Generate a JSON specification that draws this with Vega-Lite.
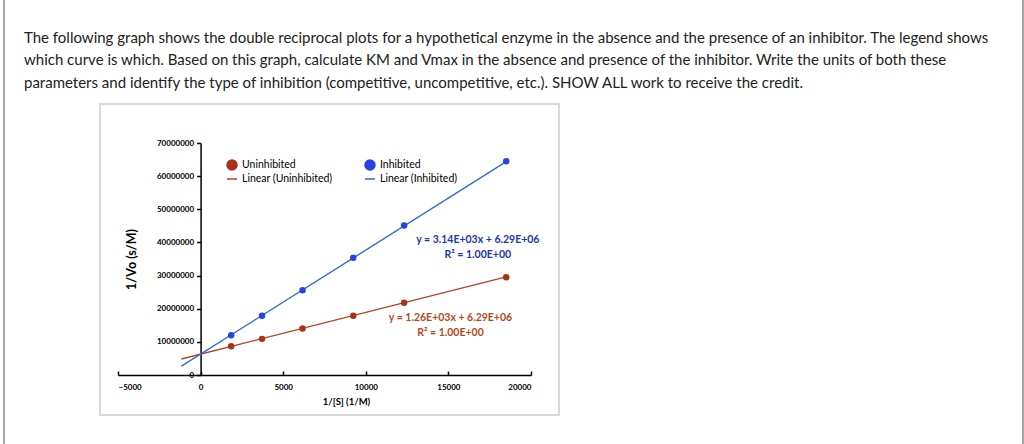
{
  "$schema": "https://vega.github.io/schema/vega-lite/v6.json",
  "autosize": "none",
  "width": 413,
  "height": 232,
  "padding": {"left": 118, "top": 143, "right": 493, "bottom": 69},
  "background": "white",
  "config": {
    "view": {"stroke": null},
    "font": "Lato",
    "axis": {"labelOverlap": false}
  },
  "title": {
    "text": [
      "The following graph shows the double reciprocal plots for a hypothetical enzyme in the absence and the presence of an inhibitor. The legend shows",
      "which curve is which. Based on this graph, calculate KM and Vmax in the absence and presence of the inhibitor. Write the units of both these",
      "parameters and identify the type of inhibition (competitive, uncompetitive, etc.). SHOW ALL work to receive the credit."
    ],
    "anchor": "start",
    "frame": "group",
    "font": "Lato",
    "fontSize": 15,
    "fontWeight": "normal",
    "color": "#222222",
    "lineHeight": 22.5,
    "offset": 0,
    "dx": -94,
    "dy": 92
  },
  "datasets": {
    "points": [
      {"x": 1850, "y": 8650000, "key": "Uninhibited"},
      {"x": 3720, "y": 10900000, "key": "Uninhibited"},
      {"x": 6170, "y": 14000000, "key": "Uninhibited"},
      {"x": 9240, "y": 17900000, "key": "Uninhibited"},
      {"x": 12320, "y": 21800000, "key": "Uninhibited"},
      {"x": 18500, "y": 29500000, "key": "Uninhibited"},
      {"x": 1850, "y": 12000000, "key": "Inhibited"},
      {"x": 3720, "y": 17900000, "key": "Inhibited"},
      {"x": 6170, "y": 25600000, "key": "Inhibited"},
      {"x": 9240, "y": 35400000, "key": "Inhibited"},
      {"x": 12320, "y": 45100000, "key": "Inhibited"},
      {"x": 18500, "y": 64500000, "key": "Inhibited"}
    ],
    "trend": [
      {"x": -1160, "y": 4830000, "key": "Linear (Uninhibited)"},
      {"x": 18500, "y": 29600000, "key": "Linear (Uninhibited)"},
      {"x": -1160, "y": 2650000, "key": "Linear (Inhibited)"},
      {"x": 18500, "y": 64380000, "key": "Linear (Inhibited)"}
    ],
    "one": [{}]
  },
  "layer": [
    {
      "data": {"name": "one"},
      "mark": {"type": "rule", "color": "#a6a6a6", "strokeWidth": 2},
      "encoding": {
        "x": {"datum": -11901, "type": "quantitative"},
        "y": {"datum": 113150000, "type": "quantitative"},
        "y2": {"datum": -20820000}
      }
    },
    {
      "data": {"name": "one"},
      "mark": {"type": "rule", "color": "#a6a6a6", "strokeWidth": 2},
      "encoding": {
        "x": {"datum": 49782, "type": "quantitative"},
        "y": {"datum": 113150000, "type": "quantitative"},
        "y2": {"datum": -20820000}
      }
    },
    {
      "data": {"name": "one"},
      "mark": {"type": "rect", "filled": false, "color": "#d9d9d9", "strokeWidth": 2},
      "encoding": {
        "x": {"datum": -6090, "type": "quantitative"},
        "x2": {"datum": 21695},
        "y": {"datum": 81770000, "type": "quantitative"},
        "y2": {"datum": -12070000}
      }
    },
    {
      "data": {"name": "trend"},
      "mark": {"type": "line", "strokeWidth": 1.4},
      "encoding": {
        "x": {"field": "x", "type": "quantitative"},
        "y": {"field": "y", "type": "quantitative"},
        "color": {
          "field": "key",
          "type": "nominal",
          "scale": {
            "domain": ["Uninhibited", "Linear (Uninhibited)", "Inhibited", "Linear (Inhibited)"],
            "range": ["#a93219", "#b5411c", "#2743e3", "#2e6ed9"]
          },
          "legend": {
            "orient": "none",
            "legendX": 108,
            "legendY": 16,
            "columns": 2,
            "columnPadding": 29,
            "rowPadding": -10,
            "title": null,
            "symbolSize": 100,
            "symbolStrokeWidth": 1.5,
            "labelFont": "Lato",
            "labelFontSize": 10.5,
            "labelColor": "black",
            "labelOffset": 4
          }
        }
      }
    },
    {
      "data": {"name": "points"},
      "mark": {"type": "point", "filled": true, "size": 42, "opacity": 1},
      "encoding": {
        "x": {
          "field": "x",
          "type": "quantitative",
          "scale": {"domain": [-5000, 20000], "nice": false, "zero": false},
          "axis": {
            "values": [-5000, 0, 5000, 10000, 15000, 20000],
            "tickCount": 10,
            "format": "d",
            "title": "1/[S] (1/M)",
            "grid": false,
            "domainColor": "black",
            "domainWidth": 1.5,
            "tickColor": "black",
            "tickWidth": 1.5,
            "tickSize": -4,
            "labelFont": "Lato",
            "labelFontSize": 8,
            "labelFontWeight": "bold",
            "labelColor": "black",
            "labelPadding": 12,
            "titleFont": "Lato",
            "titleFontSize": 9.5,
            "titleFontWeight": "bold",
            "titleColor": "black",
            "titlePadding": 5,
            "titleX": 228
          }
        },
        "y": {
          "field": "y",
          "type": "quantitative",
          "scale": {"domain": [0, 70000000], "nice": false},
          "axis": {
            "values": [0, 10000000, 20000000, 30000000, 40000000, 50000000, 60000000, 70000000],
            "tickCount": 10,
            "format": "d",
            "offset": -82.6,
            "title": "1/Vo (s/M)",
            "grid": false,
            "domainColor": "black",
            "domainWidth": 1.5,
            "tickColor": "black",
            "tickWidth": 1.5,
            "tickSize": 4,
            "labelFont": "Lato",
            "labelFontSize": 8,
            "labelFontWeight": "bold",
            "labelColor": "black",
            "labelPadding": 3,
            "titleFont": "Lato",
            "titleFontSize": 12.5,
            "titleFontWeight": "bold",
            "titleColor": "black",
            "titlePadding": 18
          }
        },
        "color": {
          "field": "key",
          "type": "nominal",
          "scale": {
            "domain": ["Uninhibited", "Linear (Uninhibited)", "Inhibited", "Linear (Inhibited)"],
            "range": ["#a93219", "#b5411c", "#2743e3", "#2e6ed9"]
          },
          "legend": {
            "orient": "none",
            "legendX": 108,
            "legendY": 16,
            "columns": 2,
            "columnPadding": 29,
            "rowPadding": -10,
            "title": null,
            "symbolSize": 100,
            "symbolStrokeWidth": 1.5,
            "labelFont": "Lato",
            "labelFontSize": 10.5,
            "labelColor": "black",
            "labelOffset": 4
          }
        },
        "shape": {
          "field": "key",
          "type": "nominal",
          "scale": {
            "domain": ["Uninhibited", "Linear (Uninhibited)", "Inhibited", "Linear (Inhibited)"],
            "range": ["circle", "stroke", "circle", "stroke"]
          },
          "legend": {
            "orient": "none",
            "legendX": 108,
            "legendY": 16,
            "columns": 2,
            "columnPadding": 29,
            "rowPadding": -10,
            "title": null,
            "symbolSize": 100,
            "symbolStrokeWidth": 1.5,
            "labelFont": "Lato",
            "labelFontSize": 10.5,
            "labelColor": "black",
            "labelOffset": 4
          }
        }
      }
    },
    {
      "data": {"name": "one"},
      "mark": {
        "type": "text",
        "text": ["y = 3.14E+03x + 6.29E+06", "R² = 1.00E+00"],
        "font": "Lato",
        "fontSize": 10.5,
        "fontWeight": "bold",
        "color": "#2035b5",
        "align": "center",
        "baseline": "middle",
        "lineHeight": 14.4
      },
      "encoding": {
        "x": {"datum": 16780, "type": "quantitative"},
        "y": {"datum": 40590000, "type": "quantitative"}
      }
    },
    {
      "data": {"name": "one"},
      "mark": {
        "type": "text",
        "text": ["y = 1.26E+03x + 6.29E+06", "R² = 1.00E+00"],
        "font": "Lato",
        "fontSize": 10.5,
        "fontWeight": "bold",
        "color": "#b24a1e",
        "align": "center",
        "baseline": "middle",
        "lineHeight": 14.4
      },
      "encoding": {
        "x": {"datum": 15127, "type": "quantitative"},
        "y": {"datum": 17050000, "type": "quantitative"}
      }
    }
  ]
}
